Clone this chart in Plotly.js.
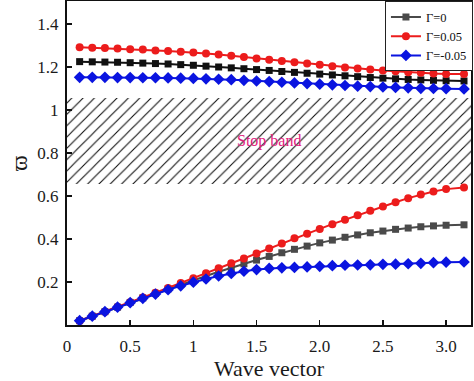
<!DOCTYPE html>
<html>
<head>
<meta charset="utf-8">
<script src="https://cdn.plot.ly/plotly-3.0.1.min.js"></script>
<style>
  html, body { margin: 0; padding: 0; background: #fff; }
  #chart { width: 474px; height: 381px; }
</style>
</head>
<body>
<div id="chart"></div>
<script>
// Wave vector samples (0.1 ... 3.0, then pi)
const waveVector = [0.1, 0.2, 0.3, 0.4, 0.5, 0.6, 0.7, 0.8, 0.9, 1.0,
  1.1, 1.2, 1.3, 1.4, 1.5, 1.6, 1.7, 1.8, 1.9, 2.0,
  2.1, 2.2, 2.3, 2.4, 2.5, 2.6, 2.7, 2.8, 2.9, 3.0, Math.PI];

// Upper (optical) branch
const upperG0 = [1.225, 1.224, 1.223, 1.222, 1.220, 1.218, 1.216, 1.214, 1.211, 1.208,
  1.204, 1.200, 1.196, 1.192, 1.188, 1.184, 1.179, 1.175, 1.171, 1.167,
  1.163, 1.159, 1.155, 1.151, 1.148, 1.145, 1.142, 1.140, 1.138, 1.136, 1.135];
const upperGpos = [1.292, 1.290, 1.288, 1.286, 1.283, 1.281, 1.277, 1.274, 1.271, 1.267,
  1.263, 1.258, 1.252, 1.246, 1.240, 1.234, 1.228, 1.222, 1.216, 1.210,
  1.204, 1.198, 1.193, 1.188, 1.184, 1.180, 1.176, 1.173, 1.170, 1.168, 1.167];
const upperGneg = [1.152, 1.152, 1.152, 1.151, 1.151, 1.150, 1.150, 1.149, 1.148, 1.147,
  1.145, 1.143, 1.141, 1.138, 1.135, 1.132, 1.129, 1.126, 1.123, 1.120,
  1.117, 1.114, 1.111, 1.109, 1.107, 1.105, 1.103, 1.101, 1.100, 1.099, 1.098];

// Lower (acoustic) branch
const lowerG0 = [0.020, 0.041, 0.062, 0.083, 0.105, 0.126, 0.147, 0.168, 0.188, 0.208,
  0.228, 0.248, 0.267, 0.285, 0.302, 0.319, 0.336, 0.352, 0.367, 0.382,
  0.395, 0.408, 0.419, 0.429, 0.437, 0.445, 0.451, 0.457, 0.461, 0.464, 0.466];
const lowerGpos = [0.020, 0.041, 0.062, 0.084, 0.106, 0.128, 0.150, 0.172, 0.195, 0.218,
  0.241, 0.264, 0.287, 0.309, 0.333, 0.356, 0.379, 0.404, 0.425, 0.447,
  0.469, 0.490, 0.511, 0.531, 0.551, 0.571, 0.590, 0.607, 0.621, 0.632, 0.639];
const lowerGneg = [0.020, 0.041, 0.062, 0.083, 0.104, 0.124, 0.144, 0.164, 0.182, 0.199,
  0.214, 0.228, 0.240, 0.250, 0.258, 0.263, 0.266, 0.268, 0.270, 0.273,
  0.276, 0.278, 0.279, 0.280, 0.282, 0.283, 0.285, 0.287, 0.290, 0.292, 0.293];

// Stop band: frequency limits and the wave-vector span it covers
const bandCenter = [1.6];
const bandWidth = [3.2];
const bandBottom = [0.655];
const bandHeight = [0.4];

const seriesNames = ['\u0393=0', '\u0393=0.05', '\u0393=-0.05'];
const xTickVals = [0, 0.5, 1, 1.5, 2, 2.5, 3];
const xTickText = ['0', '0.5', '1', '1.5', '2.0', '2.5', '3.0'];
const yTickVals = [0.2, 0.4, 0.6, 0.8, 1, 1.2, 1.4];
const yTickText = ['0.2', '0.4', '0.6', '0.8', '1', '1.2', '1.4'];

const serif = 'Liberation Serif, Times New Roman, DejaVu Serif, serif';

const styles = [
  { color: '#4a4a4a', upperColor: '#111111', symbol: 'square', size: 7 },
  { color: '#ec1c1c', upperColor: '#ec1c1c', symbol: 'circle', size: 8 },
  { color: '#0a14e0', upperColor: '#0a14e0', symbol: 'diamond', size: 9 }
];
const uppers = [upperG0, upperGpos, upperGneg];
const lowers = [lowerG0, lowerGpos, lowerGneg];

const traces = [];

// hatched stop band drawn as a single patterned bar
traces.push({
  type: 'bar',
  x: bandCenter, y: bandHeight, base: bandBottom, width: bandWidth,
  marker: {
    color: 'rgba(255,255,255,0)',
    line: { width: 0 },
    pattern: { shape: '/', size: 8, solidity: 0.14, fgcolor: '#111', bgcolor: 'rgba(255,255,255,0)' }
  },
  hoverinfo: 'skip',
  showlegend: false
});

for (let i = 0; i < 3; i++) {
  const s = styles[i];
  traces.push({
    type: 'scatter',
    x: waveVector, y: lowers[i], name: seriesNames[i],
    mode: 'lines+markers',
    line: { color: s.color, width: 2 },
    marker: { color: s.color, symbol: s.symbol, size: s.size }
  });
}
for (let i = 0; i < 3; i++) {
  const s = styles[i];
  traces.push({
    type: 'scatter',
    x: waveVector, y: uppers[i], name: seriesNames[i],
    mode: 'lines+markers',
    line: { color: s.upperColor, width: 2 },
    marker: { color: s.upperColor, symbol: s.symbol, size: s.size },
    showlegend: false
  });
}

const layout = {
  width: 474, height: 381,
  margin: { l: 67, r: 3, t: 1, b: 56 },
  paper_bgcolor: '#fff', plot_bgcolor: '#fff',
  font: { family: serif, color: '#1a1a1a', size: 12 },
  showlegend: true,
  bargap: 0,
  legend: {
    x: 0.787, y: 0.999, xanchor: 'left', yanchor: 'top',
    bordercolor: '#222', borderwidth: 1, bgcolor: '#fff',
    font: { family: serif, size: 12.5, color: '#111' },
    traceorder: 'normal', valign: 'middle'
  },
  xaxis: {
    range: [0, 3.197],
    tickvals: xTickVals, ticktext: xTickText,
    ticks: 'inside', ticklen: 5, tickwidth: 1.5, tickcolor: '#111',
    showline: true, linecolor: '#111', linewidth: 2, mirror: true,
    showgrid: false, zeroline: false,
    tickfont: { family: serif, size: 17 },
    ticklabelstandoff: 5,
    title: { text: 'Wave vector', font: { family: serif, size: 22 }, standoff: 0 }
  },
  yaxis: {
    range: [0, 1.507],
    tickvals: yTickVals, ticktext: yTickText,
    ticks: 'inside', ticklen: 5, tickwidth: 1.5, tickcolor: '#111',
    showline: true, linecolor: '#111', linewidth: 2, mirror: true,
    showgrid: false, zeroline: false,
    tickfont: { family: serif, size: 17 },
    ticklabelstandoff: 3,
    title: { text: '\u03D6', font: { family: serif, size: 24 }, standoff: 3 }
  },
  annotations: [{
    x: 1.6, y: 0.855, xref: 'x', yref: 'y',
    text: 'Stop band', showarrow: false,
    font: { family: serif, size: 16, color: '#e2207c' }
  }]
};

Plotly.newPlot('chart', traces, layout, { staticPlot: true, displayModeBar: false });
</script>
</body>
</html>
